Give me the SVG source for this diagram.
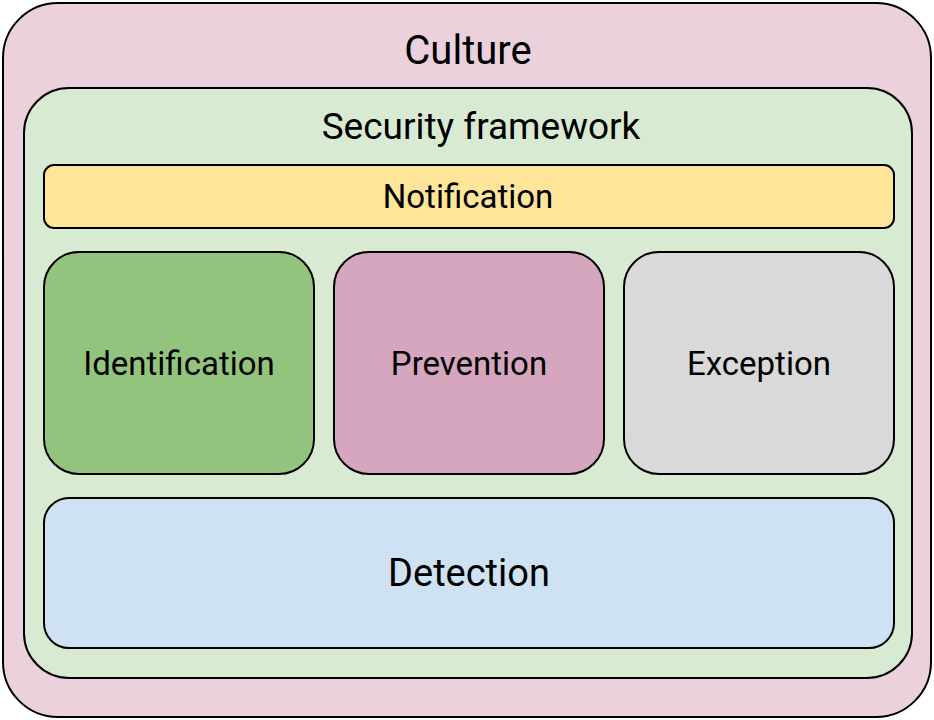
<svg xmlns="http://www.w3.org/2000/svg" width="934" height="720" viewBox="0 0 934 720">
<style>
rect{stroke:#000;stroke-width:2}
text{font-family:Roboto,"Liberation Sans",sans-serif;text-anchor:middle;fill:#000}
</style>
<rect width="934" height="720" fill="#fff" style="stroke:none"/>
<g id="culture"><rect x="3" y="3" width="928" height="714" rx="55" fill="#ead1dc"/><text x="468" y="64" font-size="40">Culture</text></g>
<g id="security"><rect x="24" y="88" width="888" height="590" rx="45" fill="#d9ead3"/><text x="481" y="139" font-size="37">Security framework</text></g>
<g id="notification"><rect x="44" y="165" width="850" height="63" rx="10" fill="#ffe599"/><text x="468" y="208" font-size="33">Notification</text></g>
<g id="identification"><rect x="44" y="252" width="270" height="222" rx="35" fill="#93c47d"/><text x="179" y="375" font-size="33">Identification</text></g>
<g id="prevention"><rect x="334" y="252" width="270" height="222" rx="35" fill="#d5a6bd"/><text x="469" y="375" font-size="33">Prevention</text></g>
<g id="exception"><rect x="624" y="252" width="270" height="222" rx="35" fill="#d9d9d9"/><text x="759" y="375" font-size="33">Exception</text></g>
<g id="detection"><rect x="44" y="498" width="850" height="150" rx="25" fill="#cfe2f3"/><text x="469" y="586" font-size="38">Detection</text></g>
<g id="connectors"/>
</svg>
